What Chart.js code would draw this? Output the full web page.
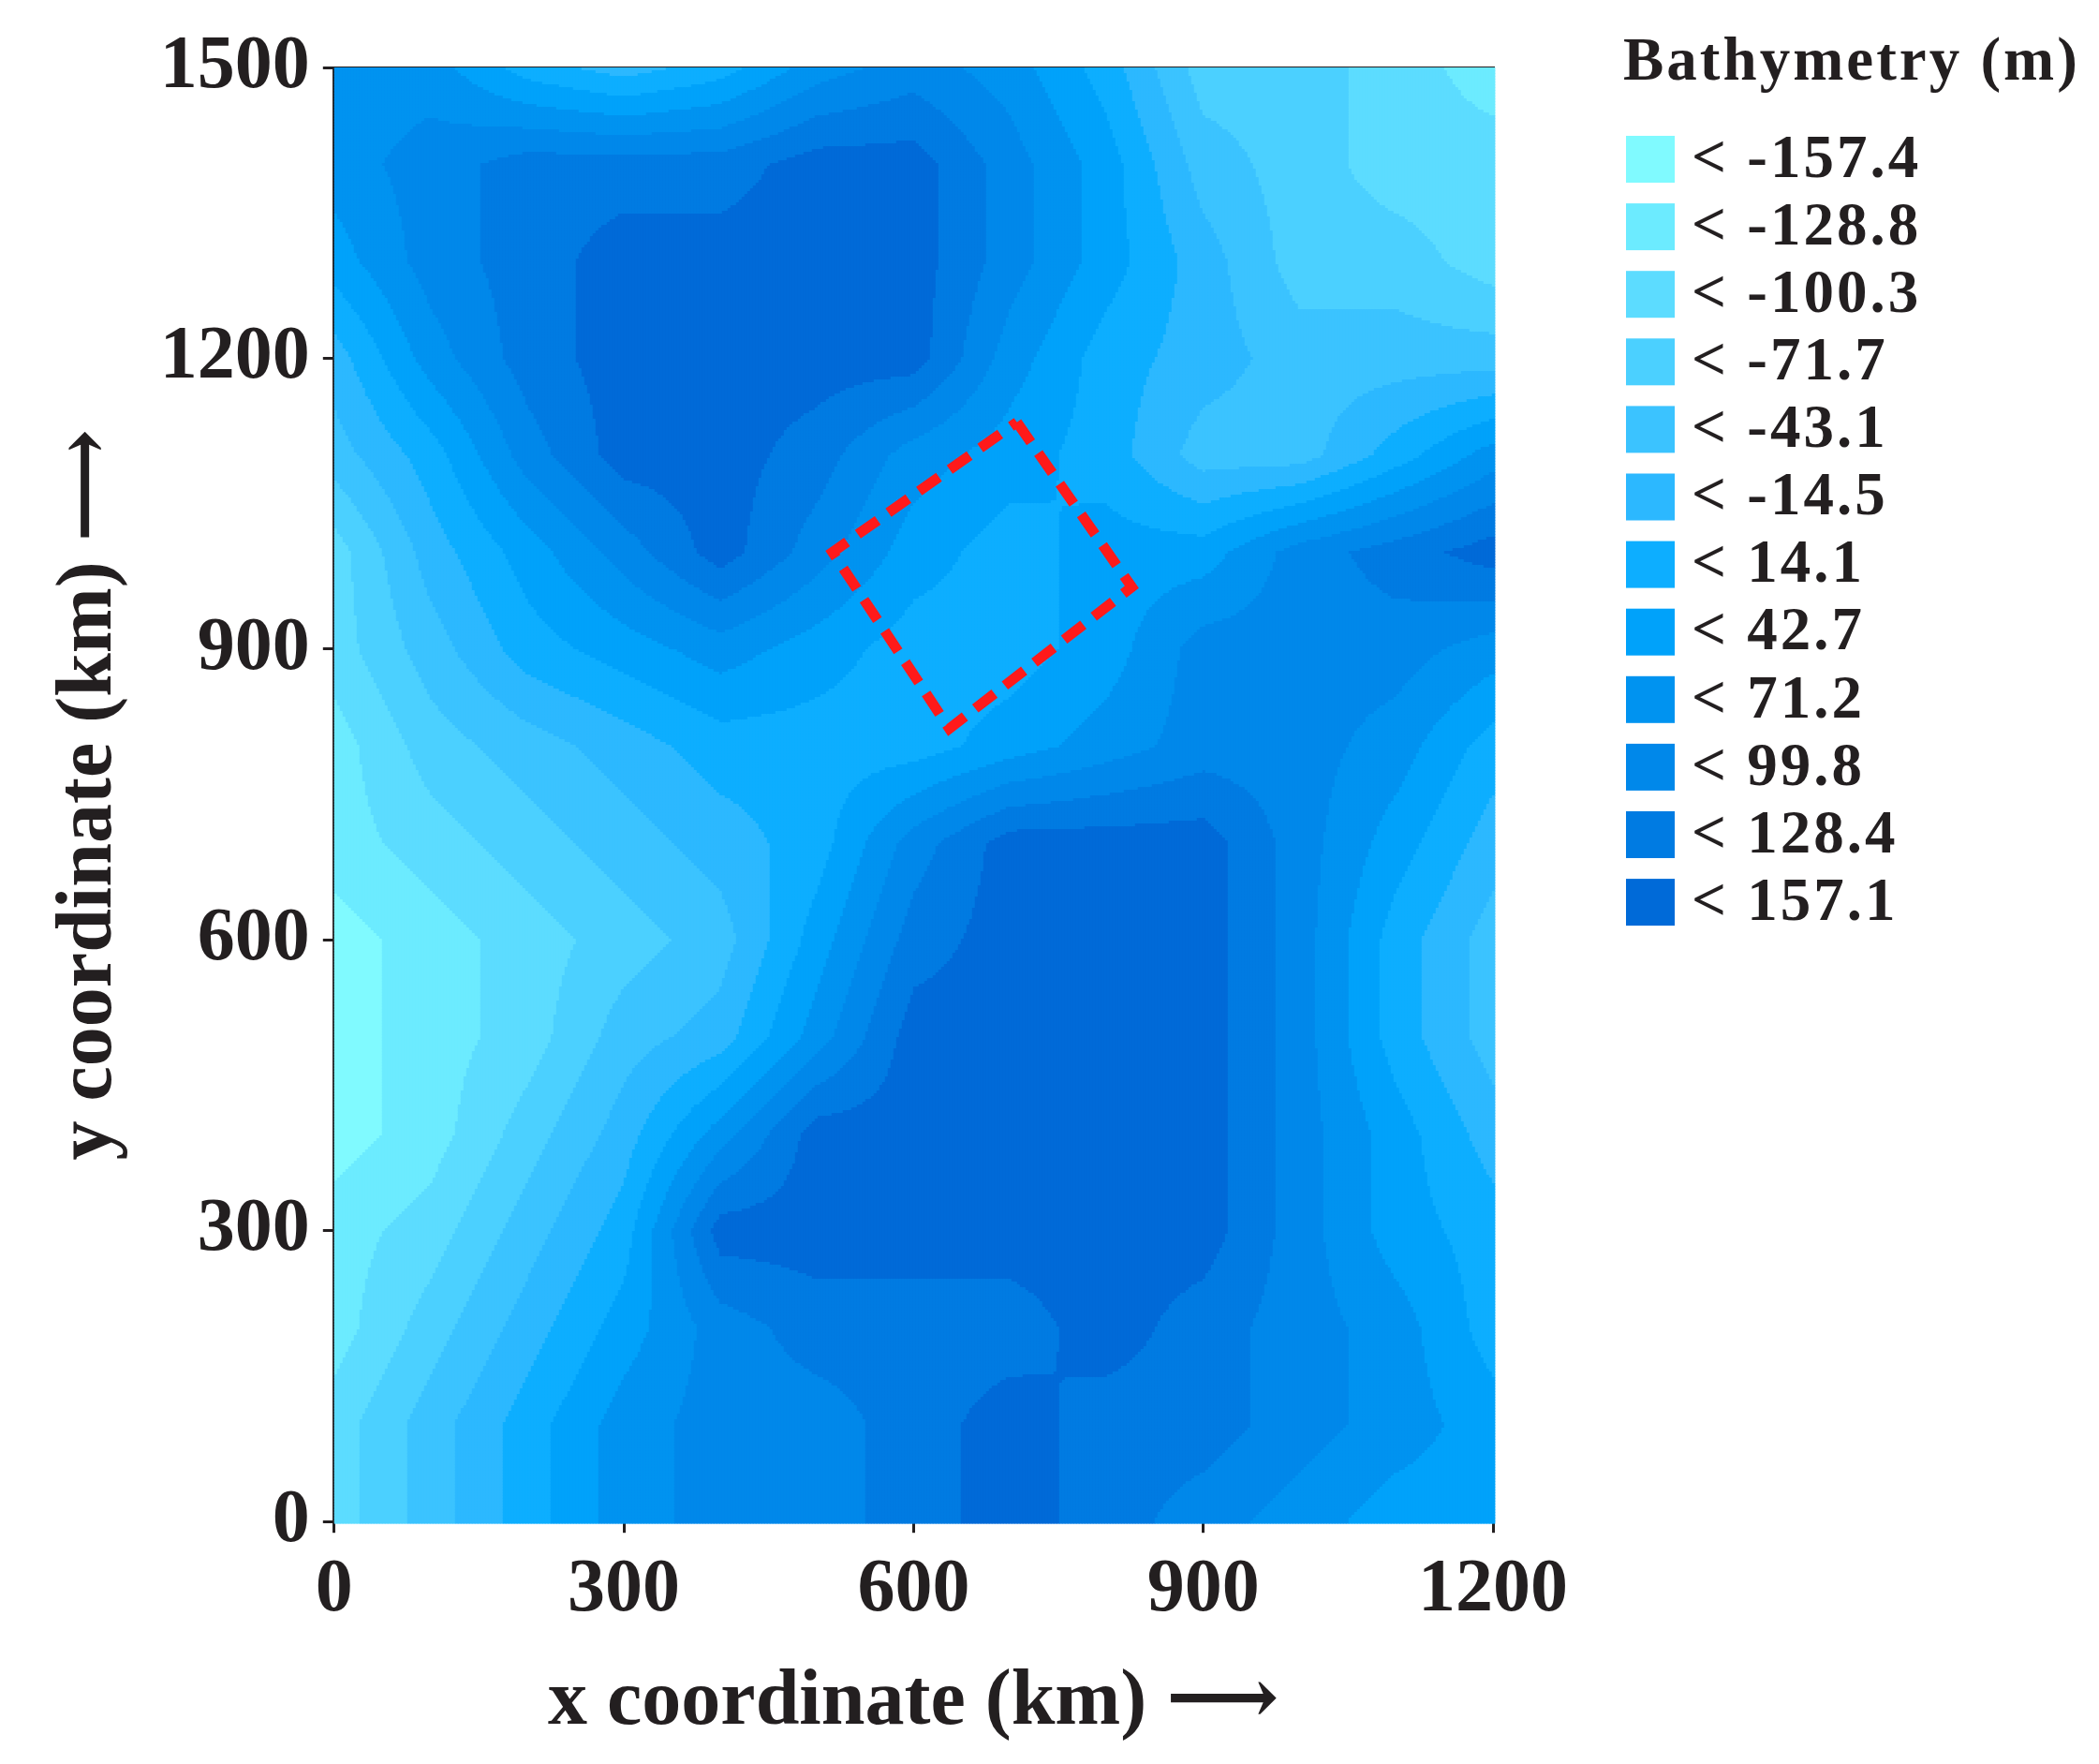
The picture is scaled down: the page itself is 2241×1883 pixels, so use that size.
<!DOCTYPE html>
<html><head><meta charset="utf-8">
<script src="https://cdn.jsdelivr.net/npm/chart.js@4/dist/chart.umd.min.js"></script>
<style>html,body{margin:0;background:#fff}canvas{display:block}</style>
</head><body>
<canvas id="c" width="2241" height="1883"></canvas>
<script>
const xNodes=[0,100,200,300,400,500,600,700,800,900,1000,1100,1200];
const yNodes=[1500,1400,1300,1200,1100,1000,900,800,700,600,500,400,300,200,100,0];
// bathymetry (m) at nodes, rows from y=1500 down to y=0
const depth=[
[57,57,0,-29,0,57,85,57,0,-86,-86,-115,-143],
[57,85,114,114,114,143,143,85,28,-57,-86,-115,-115],
[28,85,114,143,143,143,143,85,28,-29,-86,-86,-115],
[-29,57,114,143,143,143,143,57,0,-29,-57,-57,-57],
[-57,0,85,143,143,114,57,28,0,-57,-57,0,57],
[-115,-29,28,85,143,85,28,0,28,28,85,114,143],
[-115,-57,0,28,57,28,0,0,28,85,85,85,57],
[-143,-86,-57,-29,0,0,0,28,57,85,85,57,0],
[-143,-115,-86,-57,-29,0,85,143,143,143,85,28,-29],
[-172,-143,-115,-86,-57,28,114,143,143,143,85,0,-57],
[-172,-143,-115,-57,-29,57,143,143,143,143,85,0,-57],
[-172,-143,-86,-29,57,143,143,143,143,143,85,28,-29],
[-143,-115,-57,0,143,143,143,143,143,143,85,28,0],
[-143,-86,-29,28,85,114,114,114,143,114,85,57,0],
[-115,-57,0,57,85,85,114,143,114,114,85,57,28],
[-115,-57,0,57,85,85,114,143,114,85,57,28,28]
];
const thresholds=[-157.4,-128.8,-100.3,-71.7,-43.1,-14.5,14.1,42.7,71.2,99.8,128.4,157.1];
const legendLabels=['< -157.4','< -128.8','< -100.3','< -71.7','< -43.1','< -14.5','< 14.1','< 42.7','< 71.2','< 99.8','< 128.4','< 157.1'];
const colors=['#80FAFF','#6CEBFF','#5CDCFF','#4BD0FF','#3BC3FF','#2CB8FF','#0DAEFF','#00A2FA','#0093F0','#0088EA','#007BE2','#006AD8'];
const boxX=[707,826,637,516,707];
const boxY=[1134,964,818,1000,1134];

function sample(x,y){
  const fx=x/100, fy=(1500-y)/100;
  let i=Math.max(0,Math.min(11,Math.floor(fx))), j=Math.max(0,Math.min(14,Math.floor(fy)));
  const tx=Math.max(0,Math.min(1,fx-i)), ty=Math.max(0,Math.min(1,fy-j));
  const a=depth[j][i],b=depth[j][i+1],c=depth[j+1][i],d=depth[j+1][i+1];
  return (a*(1-tx)+b*tx)*(1-ty)+(c*(1-tx)+d*tx)*ty;
}
function colorFor(v){for(let k=0;k<thresholds.length;k++){if(v<thresholds[k])return colors[k];}return colors[colors.length-1];}

const F='"Liberation Serif", "DejaVu Serif", serif';
const contour={id:'contour',beforeDatasetsDraw(ch){
  const {ctx,chartArea:a,scales:{x,y}}=ch; const s=3;
  ctx.save();
  for(let px=a.left;px<a.right;px+=s){for(let py=a.top;py<a.bottom;py+=s){
    ctx.fillStyle=colorFor(sample(x.getValueForPixel(px+s/2),y.getValueForPixel(py+s/2)));
    ctx.fillRect(px,py,s+0.6,s+0.6);}}
  ctx.restore();
}};
const legendPl={id:'leg',afterDraw(ch){
  const ctx=ch.ctx; ctx.save(); ctx.fillStyle='#231f20';
  ctx.textBaseline='middle';
  ctx.letterSpacing='3px';
  ctx.font='bold 65px '+F;
  ctx.fillText('Bathymetry (m)',1733,68);
  ctx.font='bold 65px '+F;
  for(let k=0;k<colors.length;k++){
    const yy=170+k*72.1;
    ctx.fillStyle=colors[k]; ctx.fillRect(1736,yy-25,52,50);
    ctx.fillStyle='#231f20'; ctx.fillText(legendLabels[k],1806,yy+2);
  }
  ctx.restore();
}};
const tickFmt=v=>String(v);
new Chart(document.getElementById('c'),{
  type:'scatter',
  data:{datasets:[{data:boxX.map((v,i)=>({x:v,y:boxY[i]})),showLine:true,borderColor:'#ff1a1a',borderWidth:11,borderDash:[26,14],pointRadius:0,fill:false}]},
  options:{responsive:false,animation:false,
    layout:{padding:{left:42,right:647,top:72,bottom:10}},
    plugins:{legend:{display:false},tooltip:{enabled:false}},
    scales:{
      x:{min:0,max:1200,ticks:{stepSize:300,callback:tickFmt,color:'#231f20',font:{family:F,size:80,weight:'bold'},padding:14,maxRotation:0},
        grid:{display:true,drawOnChartArea:false,tickLength:12,color:'#231f20',lineWidth:3},
        border:{color:'#231f20',width:3},
        title:{display:true,text:'x coordinate (km) \u27F6',color:'#231f20',font:{family:F,size:84,weight:'bold'},padding:{top:8}}},
      y:{min:0,max:1500,ticks:{stepSize:300,callback:tickFmt,color:'#231f20',font:{family:F,size:80,weight:'bold'},padding:14},
        grid:{display:true,drawOnChartArea:false,tickLength:12,color:'#231f20',lineWidth:3},
        border:{color:'#231f20',width:3},
        title:{display:true,text:'y coordinate (km) \u27F6',color:'#231f20',font:{family:F,size:84,weight:'bold'},padding:{bottom:10}}},
      x2:{position:'top',min:0,max:1200,ticks:{display:false,stepSize:300},grid:{drawOnChartArea:false,tickLength:0},border:{color:'#231f20',width:3}},
      y2:{position:'right',min:0,max:1500,ticks:{display:false,stepSize:300},grid:{drawOnChartArea:false,tickLength:0},border:{color:'#231f20',width:3}}
    }},
  plugins:[contour,legendPl]
});
</script>
</body></html>
